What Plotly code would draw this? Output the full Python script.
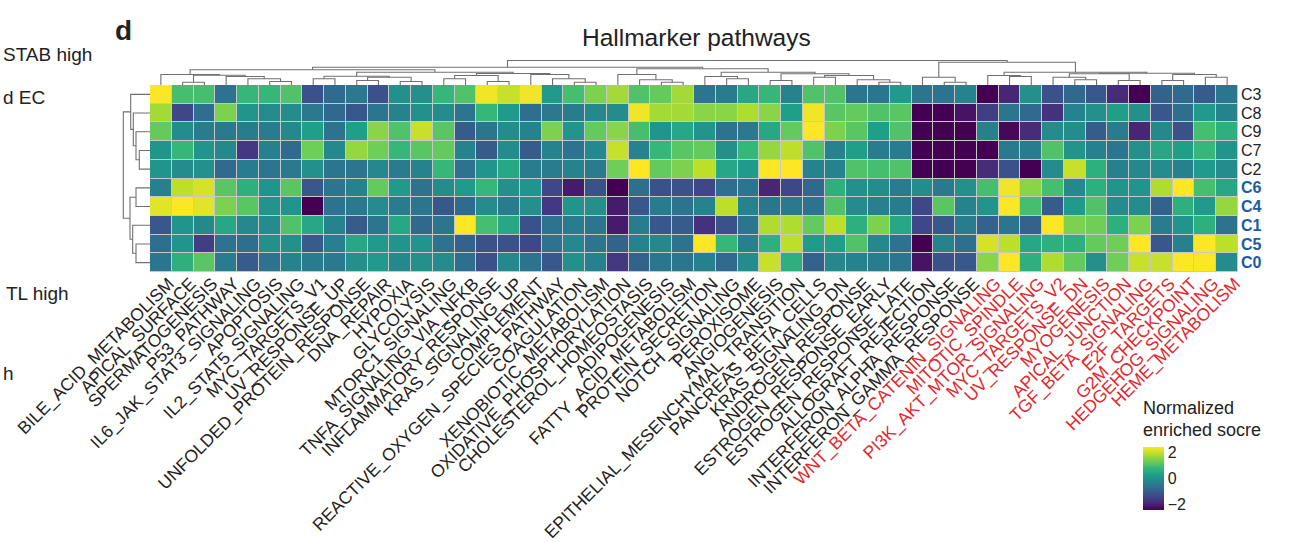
import plotly.graph_objects as go

W, H = 1292, 542

pathways = [
    "BILE_ACID_METABOLISM", "APICAL_SURFACE", "SPERMATOGENESIS", "P53_PATHWAY",
    "IL6_JAK_STAT3_SIGNALING", "APOPTOSIS", "IL2_STAT5_SIGNALING", "MYC_TARGETS_V1",
    "UV_RESPONSE_UP", "UNFOLDED_PROTEIN_RESPONSE", "DNA_REPAIR", "HYPOXIA",
    "GLYCOLYSIS", "MTORC1_SIGNALING", "TNFA_SIGNALING_VIA_NFKB", "INFLAMMATORY_RESPONSE",
    "KRAS_SIGNALING_UP", "COMPLEMENT", "REACTIVE_OXYGEN_SPECIES_PATHWAY", "COAGULATION",
    "XENOBIOTIC_METABOLISM", "OXIDATIVE_PHOSPHORYLATION", "CHOLESTEROL_HOMEOSTASIS",
    "ADIPOGENESIS", "FATTY_ACID_METABOLISM", "PROTEIN_SECRETION", "NOTCH_SIGNALING",
    "PEROXISOME", "ANGIOGENESIS", "EPITHELIAL_MESENCHYMAL_TRANSITION",
    "PANCREAS_BETA_CELLS", "KRAS_SIGNALING_DN", "ANDROGEN_RESPONSE",
    "ESTROGEN_RESPONSE_EARLY", "ESTROGEN_RESPONSE_LATE", "ALLOGRAFT_REJECTION",
    "INTERFERON_ALPHA_RESPONSE", "INTERFERON_GAMMA_RESPONSE",
    "WNT_BETA_CATENIN_SIGNALING", "MITOTIC_SPINDLE", "PI3K_AKT_MTOR_SIGNALING",
    "MYC_TARGETS_V2", "UV_RESPONSE_DN", "MYOGENESIS", "APICAL_JUNCTION",
    "TGF_BETA_SIGNALING", "E2F_TARGETS", "G2M_CHECKPOINT", "HEDGEHOG_SIGNALING",
    "HEME_METABOLISM",
]
red_pathways = pathways[38:]

clusters = ["C3", "C8", "C9", "C7", "C2", "C6", "C4", "C1", "C5", "C0"]
blue_clusters = ["C6", "C4", "C1", "C5", "C0"]

C3 = [2.4, 0.96, 0.96, -0.6, 0.79, 0.79, 1.06, -1.2, -0.75, -0.45, -1.2, 0.0, 0.0,
      0.79, 1.06, 2.3, 2.0, 2.3, 0.19, 0.96, 1.44, 1.73, 1.06, 1.25, 1.73, -0.53,
      -0.38, 0.46, 0.79, -0.24, 1.06, 1.06, -0.53, -0.53, 0.19, -0.53, -0.6, -0.24,
      -2.45, -1.9, 0.0, -1.2, -0.8, -1.1, -1.8, -2.45, -0.9, -0.75, -1.0, -0.53]
C8 = [1.73, -1.35, -0.67, 1.44, 0.1, -0.08, -0.08, -0.45, -0.8, -1.1, -0.53, -0.24, 0.0,
      -0.08, -0.53, 0.79, 0.19, -0.67, -0.45, -0.38, -0.16, -0.08, 2.3, 1.73, 1.73, 1.54,
      1.54, 1.82, 1.54, 0.29, 2.3, 1.15, 1.25, 1.06, 1.15, -2.5, -2.5, -2.15,
      -1.5, -0.53, -0.75, -1.7, -0.24, 0.0, 0.29, 0.0, -1.1, -0.67, 0.19, -0.24]
C9 = [1.25, -0.08, -0.38, -0.45, -0.38, -0.38, -0.16, 0.29, -0.6, 0.29, 1.54, 1.06, 2.0,
      1.15, -1.0, -0.53, -0.08, -0.24, 1.44, 0.1, 1.25, 1.54, 0.96, 0.1, 0.46, 0.1,
      -0.6, -0.45, 0.46, 1.25, 2.5, 1.44, 1.15, 0.29, 1.06, -2.5, -2.5, -2.5,
      -0.31, -2.3, -1.8, -0.08, -0.08, -1.0, -0.38, -1.9, -0.16, -1.2, 0.96, 0.62]
C7 = [0.1, 0.79, 0.1, -0.16, -1.6, -0.31, -0.75, 1.34, -0.16, 1.63, 1.34, 0.79, 1.15,
      1.25, -0.24, -1.0, -0.08, -1.0, -0.24, -0.6, -0.16, 2.0, -0.24, 0.79, 1.15, 1.25,
      0.0, 0.79, 1.63, 1.92, 1.06, -0.24, 0.29, -0.38, -0.38, -2.5, -2.5, -2.5,
      -2.45, -0.45, -0.38, 1.06, 0.1, -0.31, -0.53, 0.0, 0.46, 0.29, 0.79, 0.1]
C2 = [0.1, -0.08, 0.0, -0.75, -0.38, -0.53, -0.45, 0.0, -0.53, -0.53, -0.16, -0.38, -0.24,
      0.79, -0.6, 0.1, 0.46, -0.38, -0.38, -0.24, -0.38, 1.34, 2.45, 1.25, 1.44, 1.92,
      0.46, 0.19, 2.45, 2.4, -0.24, -0.24, 1.06, 0.96, 1.06, -2.5, -2.5, -2.5,
      -1.8, -1.2, -2.45, -0.08, 2.0, 0.62, -0.31, -0.16, -0.08, -0.31, 0.19, -0.08]
C6 = [-0.31, 1.92, 2.1, 1.15, 0.62, 0.1, 1.15, -1.1, -0.53, -0.24, 1.25, 0.19, -0.6,
      -0.08, 0.19, 0.79, 0.0, 0.1, -1.35, -2.05, -1.2, -2.5, -0.67, -1.2, -1.2, -1.35,
      -0.67, -0.53, -1.9, -1.35, -0.8, 0.62, 0.0, -0.08, -0.38, -0.08, -0.45, 0.0,
      0.96, 2.3, 1.54, 0.96, -0.16, 0.62, 0.1, 0.1, 1.82, 2.45, 0.96, 0.46]
C4 = [2.2, 2.5, 2.2, 1.44, 1.15, 0.1, 0.1, -2.45, -0.6, -0.45, -0.08, -0.38, -0.53,
      -1.1, -0.75, -0.08, -0.38, 0.0, -1.6, 0.1, 0.0, -2.05, -1.1, -0.38, -0.6, -0.24,
      1.92, -0.24, -0.53, -0.45, -0.6, 1.06, -0.08, -0.31, -0.38, -1.35, 1.15, -0.24,
      0.1, 2.5, 0.96, -1.0, 0.19, 1.06, -0.08, -0.08, -0.9, 0.62, 0.19, 1.63]
C1 = [-1.1, 0.1, -0.16, 0.46, -0.16, -0.08, 1.06, 0.46, -0.24, -1.0, -0.53, 0.46, -0.8,
      -0.53, 2.5, 0.96, 0.46, -1.2, -0.6, -0.38, -0.53, -2.05, -0.38, -1.1, -1.0, -1.7,
      -1.2, -0.53, 1.82, 1.82, 1.25, 1.92, 0.62, 1.44, 0.46, -1.35, -1.1, -0.38,
      -0.9, -0.53, -0.9, 2.5, 1.44, 1.34, 0.62, 1.44, -0.38, 0.1, 0.62, -0.6]
C5 = [-0.67, 0.1, -1.5, -0.6, -0.67, 0.0, 0.0, -1.0, -0.31, 0.46, 0.19, 0.1, 0.1,
      -0.6, -0.9, -1.2, -1.2, -1.35, -0.6, -0.16, -0.53, -0.9, -0.24, -0.16, -0.6, 2.45,
      0.79, -0.31, 0.62, 1.92, 0.19, 0.29, 1.06, -0.16, -0.6, -2.45, -0.24, -0.67,
      2.1, 1.92, 0.46, 0.62, 0.62, 1.25, 1.34, 2.4, -1.1, -0.31, 2.4, 1.92]
C0 = [-0.53, 0.62, 1.15, -0.38, -1.0, -0.6, -0.24, -0.38, -0.45, 0.0, 0.19, -0.16, 0.0,
      -0.08, -0.67, -1.2, -0.16, -0.6, -1.1, 0.0, -0.31, -1.6, -0.9, -0.53, -0.53, -0.31,
      -0.75, -0.08, 2.0, 0.62, -0.9, -0.16, -0.24, -0.38, -0.53, -2.15, -1.2, -1.1,
      1.54, 2.5, 0.62, 1.82, 1.25, 0.0, 1.34, 2.0, 2.0, 2.45, 2.4, -0.08]

scores = [C3, C8, C9, C7, C2, C6, C4, C1, C5, C0]

# dendrograms: [merge height (px units), left child, right child]; leaves are positions
col_tree = [24.5,
            [17.8,
             [15.2,
              [10.5, 0, [9.8, [2.8, 1, 2], [8.5, 3, [6.2, 4, [3.5, 5, 6]]]]],
              [12.8,
               [8.8, [6.2, 7, 8], [7.8, [4.5, 9, 10], [3.5, 11, 12]]],
               [11.5, [9.5, [6.2, 13, 14], [3.5, 15, 16]],
                      [10.5, 17, [6.2, 18, [2.8, 19, 20]]]]]],
             [16.2,
              [10.5, 21, [5.2, 22, [2.8, 23, 24]]],
              [12.8,
               [8.5, 25, [6.2, 26, 27]],
               [11.2, [4.5, 28, 29],
                      [9.5, [7.8, 30, 31], [5.2, 32, [2.8, 33, 34]]]]]]],
            [22.8,
             [7.8, 35, [2.8, 36, 37]],
             [12.8,
              [9.5, 38, [8.5, 39, 40]],
              [11.8,
               [11.2, [7.8, 41, [5.2, 42, 43]], [4.5, 44, 45]],
               [10.5, [4.5, 46, 47], [7.8, 48, 49]]]]]]

row_tree = [26.7,
            [19.3, 0, [16.7, 1, [14.0, 2, [10.7, 3, 4]]]],
            [20.0, [14.0, 5, 6], [17.3, 7, [14.0, 8, 9]]]]


def dendro_segments(node, pos_list, hgt_list):
    if isinstance(node, int):
        return float(node), 0.0
    h, a, b = node
    pa, ha = dendro_segments(a, pos_list, hgt_list)
    pb, hb = dendro_segments(b, pos_list, hgt_list)
    pos_list += [pa, pa, pb, pb, None]
    hgt_list += [ha, h, h, hb, None]
    return (pa + pb) / 2.0, h


cpos, chgt = [], []
dendro_segments(col_tree, cpos, chgt)
rpos, rhgt = [], []
dendro_segments(row_tree, rpos, rhgt)

RED = "#e0282e"
BLUE = "#1d5ba6"
FONT = "Liberation Sans, Arial, sans-serif"

xticktext = [f'<span style="color:{RED}">{p}</span>' if p in red_pathways else p
             for p in pathways]
yticktext = [f'<b><span style="color:{BLUE}">{c}</span></b>' if c in blue_clusters else c
             for c in clusters]

xs = list(range(len(pathways)))
ys = list(range(len(clusters)))


def px(x):
    return x / W


def py(y):
    return 1 - y / H


xdom = [px(150), px(1238)]
ydom = [py(272), py(85)]

fig = go.Figure()
fig.add_trace(go.Heatmap(
    z=scores, x=xs, y=ys, colorscale="Viridis", zmin=-2.4, zmax=2.4,
    xgap=1, ygap=1, hoverinfo="skip",
    colorbar=dict(x=px(1143), xanchor="left", y=py(510), yanchor="bottom",
                  len=63 / H, lenmode="fraction", thickness=21, thicknessmode="pixels",
                  outlinewidth=0, tickvals=[-2, 0, 2], ticktext=["\u22122", "0", "2"],
                  ticks="", tickfont=dict(size=16, color="#222", family=FONT),
                  xpad=0, ypad=0),
))
fig.add_trace(go.Scatter(x=cpos, y=chgt, mode="lines", xaxis="x2", yaxis="y2",
                         line=dict(color="#707070", width=1.1), hoverinfo="skip",
                         showlegend=False))
fig.add_trace(go.Scatter(x=rhgt, y=rpos, mode="lines", xaxis="x3", yaxis="y3",
                         line=dict(color="#707070", width=1.1), hoverinfo="skip",
                         showlegend=False))

fig.add_shape(type="rect", xref="x", yref="y", x0=-0.5, x1=len(pathways) - 0.5,
              y0=-0.5, y1=len(clusters) - 0.5, fillcolor="#c8c8c8",
              line=dict(color="#c8c8c8", width=1), layer="below")

ann = [
    dict(text="Hallmarker pathways", x=px(696), y=py(38), xanchor="center", yanchor="middle",
         font=dict(size=24.5, color="#222")),
    dict(text="<b>d</b>", x=px(123), y=py(30), xanchor="center", yanchor="middle",
         font=dict(size=28, color="#222")),
    dict(text="Normalized", x=px(1141), y=py(408), xanchor="left", yanchor="middle",
         font=dict(size=18, color="#222")),
    dict(text="enriched socre", x=px(1141), y=py(430), xanchor="left", yanchor="middle",
         font=dict(size=18, color="#222")),
    dict(text="STAB high", x=px(1), y=py(55), xanchor="left", yanchor="middle",
         font=dict(size=19, color="#222")),
    dict(text="d EC", x=px(1), y=py(97), xanchor="left", yanchor="middle",
         font=dict(size=19, color="#222")),
    dict(text="TL high", x=px(4), y=py(293), xanchor="left", yanchor="middle",
         font=dict(size=19, color="#222")),
    dict(text="h", x=px(1), y=py(373), xanchor="left", yanchor="middle",
         font=dict(size=19, color="#222")),
]
for a in ann:
    a.update(xref="paper", yref="paper", showarrow=False)

fig.update_layout(
    template="none",
    width=W, height=H,
    margin=dict(l=0, r=0, t=0, b=0),
    paper_bgcolor="white", plot_bgcolor="white",
    font=dict(family=FONT, color="#222"),
    showlegend=False,
    annotations=ann,
    xaxis=dict(domain=xdom, range=[-0.5, len(pathways) - 0.5], anchor="y",
               tickmode="array", tickvals=xs, ticktext=xticktext, tickangle=-45,
               tickfont=dict(size=17.5, color="#222"), ticks="", showgrid=False,
               zeroline=False, showline=False, automargin=False,
               ticklabelshift=8, ticklabelstandoff=-3),
    yaxis=dict(domain=ydom, range=[len(clusters) - 0.5, -0.5], anchor="x", side="right",
               tickmode="array", tickvals=ys, ticktext=yticktext,
               tickfont=dict(size=16, color="#222"), ticks="", showgrid=False,
               zeroline=False, showline=False, automargin=False, ticklabelstandoff=2),
    xaxis2=dict(domain=xdom, range=[-0.5, len(pathways) - 0.5], anchor="y2", visible=False),
    yaxis2=dict(domain=[py(85), py(56)], range=[0, 29], anchor="x2", visible=False),
    xaxis3=dict(domain=[px(100), px(150)], range=[50, 0], anchor="y3", visible=False),
    yaxis3=dict(domain=ydom, range=[len(clusters) - 0.5, -0.5], anchor="x3", visible=False),
)

fig.write_html("out.html", config={"displayModeBar": False},
               post_script="document.body.style.margin='0px';")
